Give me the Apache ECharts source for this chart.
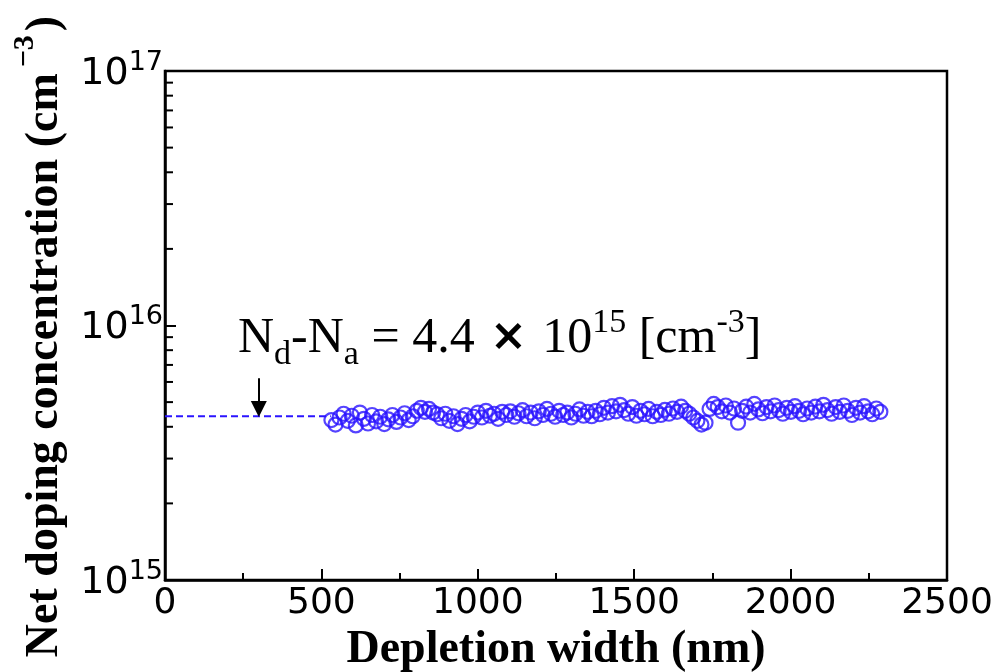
<!DOCTYPE html>
<html>
<head>
<meta charset="utf-8">
<script src="https://cdn.jsdelivr.net/npm/echarts@6/dist/echarts.min.js"></script>
<style>
  html, body { margin: 0; padding: 0; background: #fff; }
  #chart { width: 997px; height: 672px; }
</style>
</head>
<body>
<div id="chart"></div>
<script>
// depletion width (nm) and net doping (units of 1e15 cm^-3)
const depth = [
  532, 545, 558, 571, 584, 597, 610, 623, 636, 649, 662, 675, 688, 701, 714, 727, 740, 753, 766, 779,
  792, 805, 818, 831, 844, 857, 870, 883, 896, 909, 922, 935, 948, 961, 974, 987, 1000, 1013, 1026, 1039,
  1052, 1065, 1078, 1091, 1104, 1117, 1130, 1143, 1156, 1169, 1182, 1195, 1208, 1221, 1234, 1247, 1260, 1273, 1286, 1299,
  1312, 1325, 1338, 1351, 1364, 1377, 1390, 1403, 1416, 1429, 1442, 1455, 1468, 1481, 1494, 1507, 1520, 1533, 1546, 1559,
  1572, 1585, 1598, 1611, 1624, 1637, 1650, 1663, 1676, 1689, 1702, 1715, 1728, 1741, 1754, 1767, 1780, 1793, 1806, 1819,
  1832, 1845, 1858, 1871, 1884, 1897, 1910, 1923, 1936, 1949, 1962, 1975, 1988, 2001, 2014, 2027, 2040, 2053, 2066, 2079,
  2092, 2105, 2118, 2131, 2144, 2157, 2170, 2183, 2196, 2209, 2222, 2235, 2248, 2261, 2274, 2287
];
const doping = [
  4.25, 4.08, 4.35, 4.50, 4.22, 4.42, 4.05, 4.55, 4.30, 4.12, 4.45, 4.20, 4.38, 4.10, 4.28, 4.45, 4.18, 4.35, 4.52, 4.25,
  4.40, 4.62, 4.75, 4.58, 4.70, 4.55, 4.48, 4.32, 4.50, 4.22, 4.40, 4.10, 4.30, 4.45, 4.20, 4.38, 4.55, 4.35, 4.62, 4.42,
  4.50, 4.30, 4.58, 4.45, 4.60, 4.38, 4.52, 4.65, 4.40, 4.55, 4.32, 4.60, 4.45, 4.70, 4.50, 4.38, 4.62, 4.45, 4.55, 4.35,
  4.50, 4.68, 4.42, 4.58, 4.40, 4.62, 4.48, 4.75, 4.55, 4.82, 4.60, 4.88, 4.65, 4.50, 4.78, 4.42, 4.62, 4.48, 4.70, 4.40,
  4.58, 4.45, 4.66, 4.50, 4.72, 4.58, 4.80, 4.62, 4.50, 4.35, 4.22, 4.08, 4.15, 4.70, 4.92, 4.78, 4.60, 4.85, 4.55, 4.72,
  4.15, 4.62, 4.80, 4.55, 4.92, 4.68, 4.52, 4.78, 4.60, 4.85, 4.65, 4.50, 4.75, 4.58, 4.82, 4.62, 4.48, 4.72, 4.55, 4.80,
  4.60, 4.88, 4.65, 4.50, 4.78, 4.58, 4.85, 4.62, 4.45, 4.75, 4.55, 4.82, 4.60, 4.48, 4.72, 4.58
];
// fitted level and the range of the dashed guide
const ndLevel = 4.4e15;
const guideX = [0, 530];
const arrowX = 300;
const arrowY = [6.2e15, 4.7e15];
// log minor ticks on the y axis
const yMinorTicks = [2e15, 3e15, 4e15, 5e15, 6e15, 7e15, 8e15, 9e15, 2e16, 3e16, 4e16, 5e16, 6e16, 7e16, 8e16, 9e16];

const blue = '#2b14ff';
const serif = "'Liberation Serif', 'Times New Roman', serif";
const sans = "'DejaVu Sans', sans-serif";

let points = [];
for (let i = 0; i < depth.length; i++) {
    points.push([depth[i], doping[i] * 1e15]);
}

const chart = echarts.init(document.getElementById('chart'));
chart.setOption({
    animation: false,
    grid: {
        left: 165, right: 50, top: 71, bottom: 92,
        outerBoundsMode: 'none',
        show: true, borderColor: '#000', borderWidth: 2.5
    },
    xAxis: {
        type: 'value',
        min: 0, max: 2500, interval: 500,
        axisLine: { lineStyle: { color: '#000', width: 2.5 } },
        axisTick: { inside: true, length: 11, lineStyle: { color: '#000', width: 2 } },
        minorTick: { show: true, splitNumber: 2, length: 7, lineStyle: { color: '#000', width: 2 } },
        splitLine: { show: false },
        axisLabel: {
            color: '#000', fontFamily: sans, fontSize: 36, margin: 6,
            formatter: function (v) { return String(v); }
        },
        name: 'Depletion width (nm)',
        nameLocation: 'middle',
        nameGap: 40,
        nameTextStyle: { color: '#000', fontFamily: serif, fontWeight: 'bold', fontSize: 46 }
    },
    yAxis: {
        type: 'log',
        logBase: 10,
        min: 1e15, max: 1e17,
        axisLine: { lineStyle: { color: '#000', width: 2.5 } },
        axisTick: { inside: true, length: 11, lineStyle: { color: '#000', width: 2 } },
        splitLine: { show: false },
        axisLabel: {
            margin: 2,
            formatter: function (v) {
                return '{b|10}{s|' + Math.round(Math.log10(v)) + '}';
            },
            rich: {
                b: { color: '#000', fontFamily: sans, fontSize: 38, lineHeight: 44, verticalAlign: 'bottom' },
                s: { color: '#000', fontFamily: sans, fontSize: 27, lineHeight: 44, verticalAlign: 'top', padding: [0, 0, 22, 0] }
            }
        },
        name: '{m|Net doping concentration (cm}{s|−3}{e|)}',
        nameLocation: 'middle',
        nameRotate: 90,
        nameGap: 97,
        nameTextStyle: {
            rich: {
                m: { color: '#000', fontFamily: serif, fontWeight: 'bold', fontSize: 46, lineHeight: 58, verticalAlign: 'bottom' },
                e: { color: '#000', fontFamily: serif, fontWeight: 'bold', fontSize: 46, lineHeight: 58, verticalAlign: 'bottom', padding: [0, 22, 0, 0] },
                s: { color: '#000', fontFamily: serif, fontWeight: 'bold', fontSize: 30, lineHeight: 58, verticalAlign: 'top', padding: [0, 4, 20, 6] }
            }
        }
    },
    graphic: [{
        type: 'text',
        left: 238,
        top: 306,
        style: {
            text: '{m|N}{d|d}{m|-N}{d|a}{m| = 4.4}{x| × }{m|10}{u|15}{m| [cm}{u|-3}{m|]}',
            rich: {
                m: { fontFamily: serif, fontSize: 50, lineHeight: 66, verticalAlign: 'middle', fill: '#000' },
                x: { fontFamily: sans, fontSize: 44, fontWeight: 'bold', lineHeight: 66, verticalAlign: 'middle', fill: '#000' },
                d: { fontFamily: serif, fontSize: 34, lineHeight: 34, verticalAlign: 'bottom', fill: '#000' },
                u: { fontFamily: serif, fontSize: 34, lineHeight: 34, verticalAlign: 'top', fill: '#000' }
            }
        }
    }],
    series: [
        {
            type: 'line',
            data: [[guideX[0], ndLevel], [guideX[1], ndLevel]],
            showSymbol: false,
            lineStyle: { color: blue, width: 2, type: [7, 4] },
            markLine: {
                silent: true,
                symbol: ['none', 'triangle'],
                symbolSize: [16, 16],
                label: { show: false },
                lineStyle: { color: '#000', width: 2, type: 'solid' },
                data: [[{ coord: [arrowX, arrowY[0]] }, { coord: [arrowX, arrowY[1]] }]]
            }
        },
        {
            type: 'scatter',
            data: points,
            symbol: 'circle',
            symbolSize: 14,
            itemStyle: { color: 'rgba(255,255,255,0)', borderColor: blue, borderWidth: 2.2 }
        },
        {
            type: 'custom',
            silent: true,
            data: yMinorTicks.map(function (v) { return [0, v]; }),
            renderItem: function (params, api) {
                const p = api.coord([0, api.value(1)]);
                return {
                    type: 'line',
                    shape: { x1: p[0], y1: p[1], x2: p[0] + 8, y2: p[1] },
                    style: { stroke: '#000', lineWidth: 2 }
                };
            }
        }
    ]
});
</script>
</body>
</html>
